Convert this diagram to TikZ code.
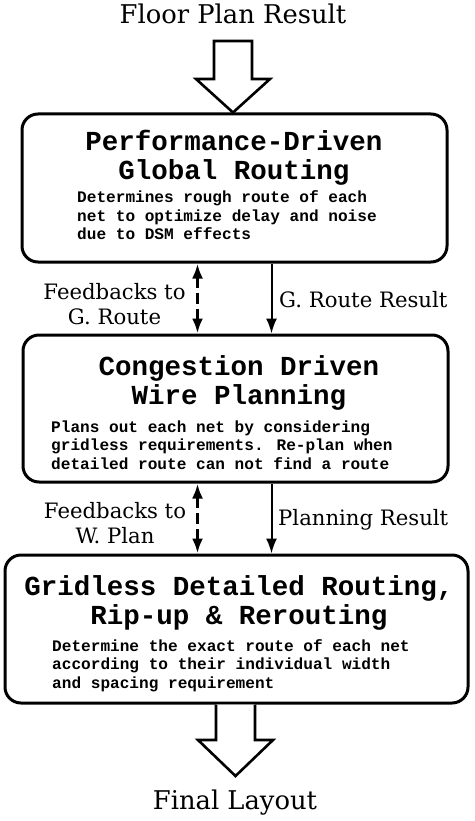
\documentclass[tikz,border=0pt]{standalone}
\usepackage{fontspec}
\setmainfont{DejaVu Serif}
\newfontfamily\monofont{Liberation Mono}
\usetikzlibrary{arrows.meta,calc}
\begin{document}
\begin{tikzpicture}[x=1pt,y=-1pt,
  stagebox/.style={draw,line width=3pt,rounded corners=16pt,inner sep=0pt},
  ttl/.style={font=\monofont\bfseries\fontsize{27.5}{28.5}\selectfont,align=center,inner sep=0pt},
  dsc/.style={font=\monofont\bfseries\fontsize{16.1}{18.6}\selectfont,align=left,anchor=west,inner sep=0pt},
  lbl/.style={font=\fontsize{21.2}{25}\selectfont,align=center,inner sep=0pt},
  endlbl/.style={font=\fontsize{25.8}{28}\selectfont,inner sep=0pt},
  fb/.style={line width=3.3pt,dash pattern=on 11pt off 5pt,{Latex[length=15pt,width=11pt]}-{Latex[length=15pt,width=11pt]}},
  res/.style={line width=2pt,-{Latex[length=15pt,width=11pt]}},
  hollow/.style={draw,line width=2.6pt,fill=white,line join=miter}]
\useasboundingbox (0,0) rectangle (474,821);

% boxes
\node[stagebox,minimum width=425pt,minimum height=148pt] (b1) at (234.5,188) {};
\node[stagebox,minimum width=425pt,minimum height=147pt] (b2) at (235.5,408.5) {};
\node[stagebox,minimum width=463pt,minimum height=148pt] (b3) at (236.5,629) {};

% titles
\node[ttl] (t1) at (234,157.5) {Performance-Driven\\Global Routing};
\node[ttl] (t2) at (239,383) {Congestion Driven\\Wire Planning};
\node[ttl] (t3) at (239,603) {Gridless Detailed Routing,\\Rip-up \& Rerouting};

% descriptions
\node[dsc] (d1) at (77,215.5) {Determines rough route of each\\net to optimize delay and noise\\due to DSM effects};
\node[dsc] (d2) at (51,445) {Plans out each net by considering\\gridless requirements. Re-plan when\\detailed route can not find a route};
\node[dsc] (d3) at (52,665.5) {Determine the exact route of each net\\according to their individual width\\and spacing requirement};

% end labels
\node[endlbl] (fp) at (233,14) {Floor Plan Result};
\node[endlbl] (fl) at (235,803) {Final Layout};

% hollow arrows
\draw[hollow] (214,41) -- (252,41) -- (252,79) -- (270,79) -- (b1.north -| 233,0) -- (196,79) -- (214,79) -- cycle;
\draw[hollow] (b3.south -| 216,0) -- (216,740) -- (198,740) -- (235.5,776) -- (273,740) -- (255,740) -- (b3.south -| 255,0);

% connectors
\coordinate (xa) at (197.5,0);
\coordinate (xb) at (271.5,0);
\draw[fb] (b1.south -| xa) -- (b2.north -| xa);
\draw[res] (b1.south -| xb) -- (b2.north -| xb);
\draw[fb] (b2.south -| xa) -- (b3.north -| xa);
\draw[res] (b2.south -| xb) -- (b3.north -| xb);

% connector labels
\node[lbl] (l1) at (114.5,304) {Feedbacks to\\G. Route};
\node[lbl,anchor=west] (l2) at (279,300) {G. Route Result};
\node[lbl] (l3) at (115,523.5) {Feedbacks to\\W. Plan};
\node[lbl,anchor=west] (l4) at (278,520) {Planning Result};
\end{tikzpicture}
\end{document}
